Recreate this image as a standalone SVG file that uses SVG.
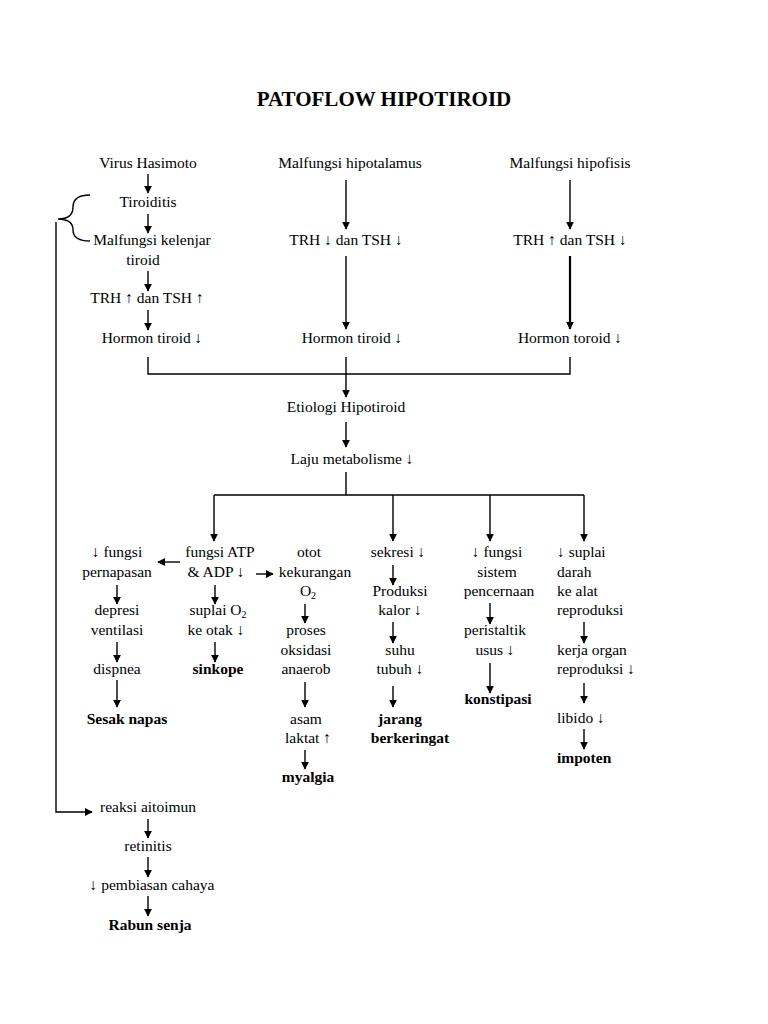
<svg xmlns="http://www.w3.org/2000/svg" width="768" height="1024" viewBox="0 0 768 1024">
<style>
text{font-family:"Liberation Serif","Times New Roman",serif;font-size:15.5px;fill:#000;text-anchor:middle}
.b{font-weight:bold}
.l{text-anchor:start}
.t{font-size:21px;font-weight:bold}
.c line,.c path,.c polyline{stroke:#000;stroke-width:1.4;fill:none}
.c .a{marker-end:url(#ah)}
</style>
<defs><marker id="ah" viewBox="0 0 10 10" refX="9" refY="5" markerWidth="8" markerHeight="8" markerUnits="userSpaceOnUse" orient="auto"><path d="M0,0L10,5L0,10z" fill="#000"/></marker></defs>
<rect width="768" height="1024" fill="#fff"/>
<text class="t" x="384" y="106">PATOFLOW HIPOTIROID</text>
<g class="c">
<line class="a" x1="148" y1="174" x2="148" y2="193"/>
<line class="a" x1="148" y1="214" x2="148" y2="233"/>
<line class="a" x1="148" y1="271" x2="148" y2="291"/>
<line class="a" x1="148" y1="310" x2="148" y2="330"/>
<path d="M90,195 Q73,195 73,207 Q73,219 58,219 Q73,219 73,230 Q73,241 90,241"/>
<polyline class="a" points="56,222 56,812 92,812"/>
<line class="a" x1="346" y1="180" x2="346" y2="229"/>
<line class="a" x1="346" y1="256" x2="346" y2="329"/>
<line class="a" x1="570" y1="180" x2="570" y2="229"/>
<line class="a" x1="570" y1="256" x2="570" y2="329" style="stroke-width:2.2"/>
<polyline points="148,357 148,374 570,374 570,357"/>
<line class="a" x1="346" y1="357" x2="346" y2="397"/>
<line class="a" x1="346" y1="422" x2="346" y2="447"/>
<line x1="346" y1="472" x2="346" y2="495"/>
<line x1="214" y1="495" x2="584" y2="495"/>
<line class="a" x1="214" y1="495" x2="214" y2="541"/>
<line class="a" x1="393" y1="495" x2="393" y2="541"/>
<line class="a" x1="490" y1="495" x2="490" y2="541"/>
<line class="a" x1="584" y1="495" x2="584" y2="541"/>
<line class="a" x1="180" y1="562" x2="158" y2="562"/>
<line class="a" x1="256" y1="574" x2="273" y2="574"/>
<line class="a" x1="117" y1="585" x2="117" y2="604"/>
<line class="a" x1="117" y1="642" x2="117" y2="662"/>
<line class="a" x1="117" y1="680" x2="117" y2="707"/>
<line class="a" x1="215" y1="585" x2="215" y2="604"/>
<line class="a" x1="215" y1="642" x2="215" y2="662"/>
<line class="a" x1="305" y1="604" x2="305" y2="623"/>
<line class="a" x1="305" y1="682" x2="305" y2="707"/>
<line class="a" x1="305" y1="750" x2="305" y2="769"/>
<line class="a" x1="393" y1="565" x2="393" y2="585"/>
<line class="a" x1="393" y1="622" x2="393" y2="643"/>
<line class="a" x1="393" y1="686" x2="393" y2="707"/>
<line class="a" x1="490" y1="603" x2="490" y2="624"/>
<line class="a" x1="490" y1="663" x2="490" y2="693"/>
<line class="a" x1="584" y1="622" x2="584" y2="643"/>
<line class="a" x1="584" y1="683" x2="584" y2="703"/>
<line class="a" x1="584" y1="729" x2="584" y2="749"/>
<line class="a" x1="148" y1="819" x2="148" y2="838"/>
<line class="a" x1="148" y1="857" x2="148" y2="877"/>
<line class="a" x1="148" y1="896" x2="148" y2="916"/>
</g>
<g id="n-virus"><text x="148" y="168">Virus Hasimoto</text></g>
<g id="n-tiroiditis"><text x="148" y="207">Tiroiditis</text></g>
<g id="n-malkel"><text x="152" y="245">Malfungsi kelenjar</text><text x="143" y="265">tiroid</text></g>
<g id="n-trh1"><text x="147" y="303">TRH ↑ dan TSH ↑</text></g>
<g id="n-hor1"><text x="152" y="343">Hormon tiroid ↓</text></g>
<g id="n-hipot"><text x="350" y="168">Malfungsi hipotalamus</text></g>
<g id="n-trh2"><text x="346" y="245">TRH ↓ dan TSH ↓</text></g>
<g id="n-hor2"><text x="352" y="343">Hormon tiroid ↓</text></g>
<g id="n-hipof"><text x="570" y="168">Malfungsi hipofisis</text></g>
<g id="n-trh3"><text x="570" y="245">TRH ↑ dan TSH ↓</text></g>
<g id="n-hor3"><text x="570" y="343">Hormon toroid ↓</text></g>
<g id="n-etio"><text x="346" y="412">Etiologi Hipotiroid</text></g>
<g id="n-laju"><text x="352" y="464">Laju metabolisme ↓</text></g>
<g id="n-fp"><text x="117" y="557">↓ fungsi</text><text x="117" y="577">pernapasan</text></g>
<g id="n-dv"><text x="117" y="615">depresi</text><text x="117" y="635">ventilasi</text></g>
<g id="n-disp"><text x="117" y="674">dispnea</text></g>
<g id="n-sesak"><text class="b" x="127" y="724">Sesak napas</text></g>
<g id="n-atp"><text x="220" y="557">fungsi ATP</text><text x="216" y="577">&amp; ADP ↓</text></g>
<g id="n-supo"><text x="218" y="615">suplai O<tspan font-size="10" dy="3">2</tspan></text><text x="216" y="635">ke otak ↓</text></g>
<g id="n-sink"><text class="b" x="218" y="674">sinkope</text></g>
<g id="n-otot"><text x="309" y="557">otot</text><text x="315" y="577">kekurangan</text><text x="308" y="596">O<tspan font-size="10" dy="3">2</tspan></text></g>
<g id="n-proses"><text x="306" y="635">proses</text><text x="306" y="655">oksidasi</text><text x="306" y="674">anaerob</text></g>
<g id="n-asam"><text x="306" y="724">asam</text><text x="308" y="743">laktat ↑</text></g>
<g id="n-myal"><text class="b" x="308" y="782">myalgia</text></g>
<g id="n-sekr"><text x="398" y="557">sekresi ↓</text></g>
<g id="n-prod"><text x="400" y="596">Produksi</text><text x="400" y="615">kalor ↓</text></g>
<g id="n-suhu"><text x="400" y="655">suhu</text><text x="400" y="674">tubuh ↓</text></g>
<g id="n-jarang"><text class="b" x="400" y="724">jarang</text><text class="b" x="410" y="743">berkeringat</text></g>
<g id="n-fsis"><text x="497" y="557">↓ fungsi</text><text x="497" y="577">sistem</text><text x="499" y="596">pencernaan</text></g>
<g id="n-peri"><text x="495" y="635">peristaltik</text><text x="495" y="655">usus ↓</text></g>
<g id="n-kons"><text class="b" x="498" y="704">konstipasi</text></g>
<g id="n-sup"><text class="l" x="557" y="557">↓ suplai</text><text class="l" x="557" y="577">darah</text><text class="l" x="557" y="596">ke alat</text><text class="l" x="557" y="615">reproduksi</text></g>
<g id="n-kerja"><text class="l" x="557" y="655">kerja organ</text><text class="l" x="557" y="674">reproduksi ↓</text></g>
<g id="n-libido"><text class="l" x="557" y="723">libido ↓</text></g>
<g id="n-impo"><text class="b l" x="557" y="763">impoten</text></g>
<g id="n-reaksi"><text x="148" y="812">reaksi aitoimun</text></g>
<g id="n-retin"><text x="148" y="851">retinitis</text></g>
<g id="n-pemb"><text x="152" y="890">↓ pembiasan cahaya</text></g>
<g id="n-rabun"><text class="b" x="150" y="930">Rabun senja</text></g>
</svg>
